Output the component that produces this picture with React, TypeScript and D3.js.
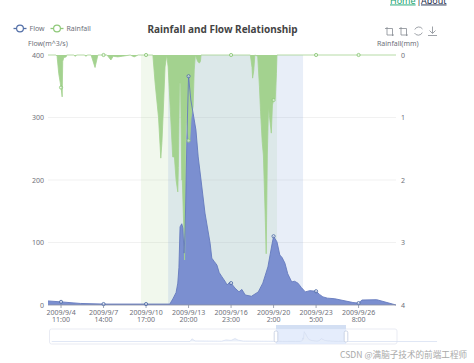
import React from "react";
import * as d3 from "d3";

const title = "Rainfall and Flow Relationship";
const tickHours = [0, 75, 150, 225, 300, 375, 450, 525];
const tickDates = ["2009/9/4", "2009/9/7", "2009/9/10", "2009/9/13", "2009/9/16", "2009/9/20", "2009/9/23", "2009/9/26"];
const tickTimes = ["11:00", "14:00", "17:00", "20:00", "23:00", "2:00", "5:00", "8:00"];
const flowTicks = [0, 100, 200, 300, 400];
const rainTicks = [0, 1, 2, 3, 4];

const flowHours = [-23, 0, 34, 75, 150, 192, 198, 203, 206, 208, 210, 213, 215, 217, 219, 222, 225, 229, 233, 238, 242, 247, 254, 263, 266, 270, 275, 279, 284, 290, 293, 297, 300, 307, 314, 319, 325, 336, 348, 356, 365, 372, 375, 381, 386, 390, 395, 400, 407, 412, 418, 424, 431, 439, 450, 456, 462, 470, 483, 515, 525, 531, 557, 575, 591];
const flowValues = [6.5, 5, 2.5, 1.5, 1.5, 1.5, 11, 20, 35, 60, 125, 130, 123, 83, 120, 265, 366, 328, 307, 280, 237, 200, 147, 99, 75, 70, 64, 52, 45, 37, 32, 36, 35, 27, 21, 25, 16, 14, 21, 35, 61, 96, 110, 101, 80, 76, 67, 50, 37, 38, 35, 28, 21, 23, 22, 17, 13, 11, 10, 4, 3, 8, 8.5, 4, 0];

const rainHours = [-23, -9, -7, -4, 0, 2, 3, 5, 9, 10, 22, 25, 28, 41, 44, 47, 53, 60, 65, 75, 81, 88, 92, 100, 108, 122, 129, 136, 150, 162, 166, 172, 176, 178, 180.5, 183.5, 186.5, 189, 193.5, 197, 200, 203, 206, 207, 209, 211, 213, 214, 217, 218, 219, 220, 220.5, 222, 225, 227, 229.5, 233, 235, 237, 241, 244, 246, 247, 300, 334, 337, 338, 340, 342, 347, 350, 352, 355, 357, 360, 362, 364, 366, 368, 371, 373, 375, 378, 380, 381, 450, 525, 591];
const rainValues = [0, 0, 0.02, 0.3, 0.52, 0.67, 0.1, 0.04, 0.03, 0, 0, 0.02, 0, 0, 0.02, 0, 0, 0.2, 0, 0, 0, 0.08, 0.02, 0.03, 0.02, 0, 0.03, 0, 0, 0, 0.45, 1.0, 1.65, 1.4, 0.88, 0.19, 0, 0.19, 1.0, 1.63, 1.63, 2.0, 2.19, 1.8, 0.45, 0.45, 2.0, 2.0, 2.9, 3.28, 2.6, 1.6, 0.83, 1.1, 1.37, 1.37, 1.0, 0.83, 0.24, 0, 0.1, 0.13, 0.1, 0, 0, 0, 0.2, 0.37, 0.25, 0, 0.02, 0.5, 0.9, 1.4, 1.6, 2.5, 3.18, 1.6, 0.83, 1.0, 1.25, 0.8, 0.72, 0.7, 0.3, 0, 0, 0, 0];

const bandStarts = [141, 189];
const bandEnds = [381, 427];
const bandFills = ["#a5d68c", "#8ea8dc"];
const bandOpacities = [0.16, 0.2];

// flow outside the visible window, only seen in the slider
const historyHours = [-1990, -777, -760, -733, -500, -461, -417, -382, -355, -311, -23];
const historyValues = [0, 0, 100, 20, 10, 60, 40, 110, 50, 15, 6.5];

const W = 474, H = 363;
const left = 48, right = 396, top = 55, bottom = 305;
const x = d3.scaleLinear().domain([-23, 591]).range([left, right]);
const yFlow = d3.scaleLinear().domain([0, 400]).range([bottom, top]);
const yRain = d3.scaleLinear().domain([0, 4]).range([top, bottom]);

const sl = { l: 49.5, r: 397, t: 329, b: 344, sel0: 276, sel1: 346, base: 341.5 };
const xMini = d3.scaleLinear().domain([-23, 591]).range([sl.sel0, sl.sel1]);
const yMini = d3.scaleLinear().domain([0, 366]).range([sl.base, 331.7]);

const flowPts = flowHours.map((h, i) => [h, flowValues[i]] as [number, number]);
const rainPts = rainHours.map((h, i) => [h, rainValues[i]] as [number, number]);
const miniPts = [...historyHours.map((h, i) => [h, historyValues[i]] as [number, number]), ...flowPts, [1390, 0] as [number, number]];

const flowArea = d3.area<[number, number]>().x(d => x(d[0])).y0(bottom).y1(d => yFlow(d[1]))(flowPts)!;
const flowLine = d3.line<[number, number]>().x(d => x(d[0])).y(d => yFlow(d[1]))(flowPts)!;
const rainArea = d3.area<[number, number]>().x(d => x(d[0])).y0(top).y1(d => yRain(d[1]))(rainPts)!;
const rainLine = d3.line<[number, number]>().x(d => x(d[0])).y(d => yRain(d[1]))(rainPts)!;
const miniArea = d3.area<[number, number]>().x(d => xMini(d[0])).y0(sl.base).y1(d => yMini(d[1]))(miniPts)!;
const miniLine = d3.line<[number, number]>().x(d => xMini(d[0])).y(d => yMini(d[1]))(miniPts)!;

const font = "'Noto Sans', 'Open Sans', sans-serif";
const grey = "#6e7079";
const flowColor = "#5470a8";
const flowEdge = "#6479bd";
const flowFill = "#7b8fd0";
const rainColor = "#a3d28f";

function LegendItem({ cx, color, label }: { cx: number; color: string; label: string }) {
  return (
    <g>
      <line x1={cx - 6.5} x2={cx + 6.5} y1={28.5} y2={28.5} stroke={color} strokeWidth={1.3} />
      <circle cx={cx} cy={28.5} r={3.4} fill="#fff" stroke={color} strokeWidth={1.2} />
      <text x={cx + 9.5} y={31} fontSize={7} fill={grey}>{label}</text>
    </g>
  );
}

const iconStroke = "#858a92";

export default function App() {
  return (
    <svg width={W} height={H} viewBox={`0 0 ${W} ${H}`} fontFamily={font}
      style={{ position: "absolute", left: 0, top: 0, background: "#fff" }}>
      <text x={390} y={3.5} fontSize={9} fill="#16a36f" textDecoration="underline">Home</text>
      <text x={416.5} y={3.5} fontSize={9} fill="#333">|</text>
      <text x={421} y={3.5} fontSize={9} fill="#1b2a4a" textDecoration="underline">About</text>

      <LegendItem cx={20} color={flowColor} label="Flow" />
      <LegendItem cx={57} color="#8fc97a" label="Rainfall" />
      <text x={222.5} y={33} textAnchor="middle" fontSize={10} fontWeight={700} fill="#444">{title}</text>

      <g fill="none" stroke={iconStroke} strokeWidth={0.8}>
        <path d="M387 27 V35 H394 M385 28.5 H392.5 V36" />
        <path d="M401 27 V35 H408 M399 28.5 H406.5 V36" />
        <path d="M422.5 29 A4.4 4.4 0 0 0 414.8 29.5 M414.5 33 A4.4 4.4 0 0 0 422.3 32.6" />
        <path d="M432.5 26.5 V33 M429.5 30.5 L432.5 33.5 L435.5 30.5 M428 35.5 H437" />
      </g>

      <text x={28} y={46} fontSize={7} fill={grey}>Flow(m^3/s)</text>
      <text x={377} y={46} fontSize={7} fill={grey}>Rainfall(mm)</text>

      {flowTicks.map((t, i) => i > 0 && i < 4 ? (
        <line key={t} x1={left} x2={right} y1={yFlow(t)} y2={yFlow(t)} stroke="#eeeeee" strokeWidth={0.8} />
      ) : null)}
      {flowTicks.map(t => (
        <text key={t} x={44} y={yFlow(t) + 2.5} textAnchor="end" fontSize={7} fill={grey}>{t}</text>
      ))}
      {rainTicks.map(t => (
        <text key={t} x={401} y={yRain(t) + 2.5} fontSize={7} fill={grey}>{t}</text>
      ))}

      {bandStarts.map((s, i) => (
        <rect key={i} x={x(s)} y={top} width={x(bandEnds[i]) - x(s)} height={bottom - top}
          fill={bandFills[i]} fillOpacity={bandOpacities[i]} />
      ))}

      <path d={flowArea} fill={flowFill} />
      <path d={rainArea} fill={rainColor} />
      <path d={rainLine} fill="none" stroke={rainColor} strokeWidth={0.8} />
      <path d={flowLine} fill="none" stroke={flowEdge} strokeWidth={0.9} />

      <line x1={left} x2={right} y1={bottom} y2={bottom} stroke="#8a90a0" strokeWidth={0.8} />
      {tickHours.map((h, i) => (
        <g key={h}>
          <line x1={x(h)} x2={x(h)} y1={bottom} y2={bottom + 3} stroke="#8a90a0" strokeWidth={0.8} />
          <text textAnchor="middle" fontSize={7} fill={grey}>
            <tspan x={x(h)} y={314.5}>{tickDates[i]}</tspan>
            <tspan x={x(h)} y={321.5}>{tickTimes[i]}</tspan>
          </text>
        </g>
      ))}

      {tickHours.map(h => {
        const fi = flowHours.indexOf(h);
        const ri = rainHours.indexOf(h);
        return (
          <g key={h} fill="#fff" fillOpacity={0.45} strokeWidth={0.9}>
            <circle cx={x(h)} cy={yFlow(flowValues[fi])} r={1.6} stroke={flowColor} />
            <circle cx={x(h)} cy={yRain(rainValues[ri])} r={1.6} stroke="#8fc97a" />
          </g>
        );
      })}

      <rect x={sl.l} y={sl.t} width={sl.r - sl.l} height={sl.b - sl.t} rx={2} fill="#fff" stroke="#e6e9f2" strokeWidth={0.9} />
      <rect x={sl.sel0} y={sl.t} width={sl.sel1 - sl.sel0} height={sl.b - sl.t} fill="#dfe9fb" fillOpacity={0.8} />
      <path d={miniArea} fill="#e6ecf8" fillOpacity={0.8} />
      <path d={miniLine} fill="none" stroke="#d2dcf0" strokeWidth={0.7} />
      <rect x={sl.sel0} y={325} width={sl.sel1 - sl.sel0} height={4} fill="#d3dff3" />
      {[sl.sel0, sl.sel1].map(px => (
        <rect key={px} x={px - 1.8} y={331} width={3.6} height={11} rx={1.5} fill="#fff" stroke="#c2cce0" strokeWidth={0.8} />
      ))}

      <text x={340} y={358} fontSize={8.6} fill="#a9a9a9" fontFamily="'Noto Sans CJK SC', 'Noto Sans', sans-serif">CSDN @满脑子技术的前端工程师</text>
    </svg>
  );
}
